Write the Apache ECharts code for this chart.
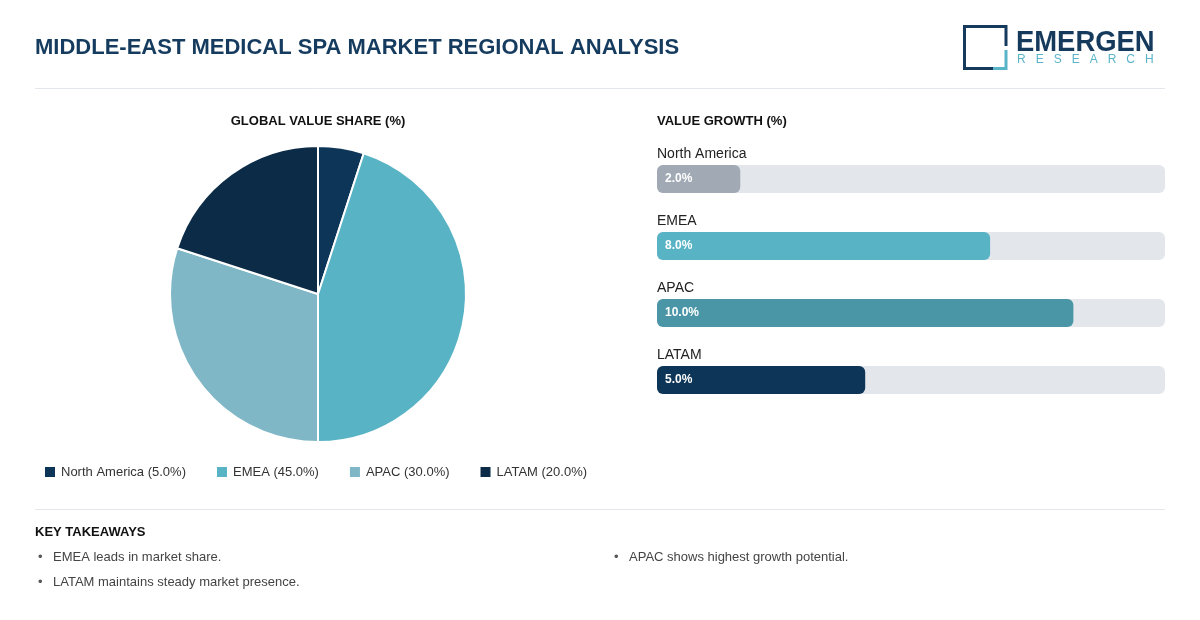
<!DOCTYPE html>
<html>
<head>
<meta charset="utf-8">
<script src="https://cdn.jsdelivr.net/npm/echarts@6/dist/echarts.min.js"></script>
<style>
html,body{margin:0;padding:0;background:#fff;}
#chart{width:1200px;height:620px;}
</style>
</head>
<body>
<div id="chart"></div>
<script>
const regions = ['North America', 'EMEA', 'APAC', 'LATAM'];
const shareValues = [5.0, 45.0, 30.0, 20.0];
const growthValues = [2.0, 8.0, 10.0, 5.0];
const takeawaysLeft = ['EMEA leads in market share.', 'LATAM maintains steady market presence.'];
const takeawaysRight = ['APAC shows highest growth potential.'];

const pieColors = ['#0d3557', '#58b3c5', '#7fb7c6', '#0b2b46'];
const barColors = ['#a0a9b4', '#58b3c5', '#4b96a6', '#0d3557'];
const FONT = '"Liberation Sans", Arial, sans-serif';

const chart = echarts.init(document.getElementById('chart'), null, {renderer: 'canvas'});

const graphics = [
  {type: 'text', left: 35, top: 37, style: {text: 'MIDDLE-EAST MEDICAL SPA MARKET REGIONAL ANALYSIS', font: 'bold 22px ' + FONT, fill: '#153b5e'}},
  {type: 'line', shape: {x1: 35, y1: 88.5, x2: 1165, y2: 88.5}, style: {stroke: '#e3e6ea', lineWidth: 1}},
  {type: 'line', shape: {x1: 35, y1: 509.5, x2: 1165, y2: 509.5}, style: {stroke: '#e3e6ea', lineWidth: 1}},
  {type: 'text', x: 318, y: 121, style: {text: 'GLOBAL VALUE SHARE (%)', font: 'bold 13px ' + FONT, fill: '#111', align: 'center', verticalAlign: 'middle'}},
  {type: 'text', x: 657, y: 121, style: {text: 'VALUE GROWTH (%)', font: 'bold 13px ' + FONT, fill: '#111', align: 'left', verticalAlign: 'middle'}},
  {type: 'text', x: 35, y: 532, style: {text: 'KEY TAKEAWAYS', font: 'bold 13px ' + FONT, fill: '#111', align: 'left', verticalAlign: 'middle'}},
  // logo
  {type: 'polyline', shape: {points: [[1006, 46], [1006, 26.5], [964.5, 26.5], [964.5, 68.5], [993, 68.5]]}, style: {fill: 'none', stroke: '#163a5c', lineWidth: 3}},
  {type: 'polyline', shape: {points: [[1006, 50], [1006, 68.5], [993, 68.5]]}, style: {fill: 'none', stroke: '#5ab4c8', lineWidth: 3}},
  {type: 'text', x: 1016, y: 43, scaleX: 0.945, style: {text: 'EMERGEN', font: 'bold 29px ' + FONT, fill: '#163a5c', align: 'left', verticalAlign: 'middle'}},
  {type: 'text', x: 1017, y: 60, style: {text: 'R   E   S   E   A   R   C   H', font: '12px ' + FONT, fill: '#5ab4c8', align: 'left', verticalAlign: 'middle'}}
];

takeawaysLeft.forEach(function (t, i) {
  graphics.push({type: 'text', x: 38, y: 557 + i * 25, style: {text: '\u2022', font: '13px ' + FONT, fill: '#555', verticalAlign: 'middle'}});
  graphics.push({type: 'text', x: 53, y: 557 + i * 25, style: {text: t, font: '13px ' + FONT, fill: '#444', verticalAlign: 'middle'}});
});
takeawaysRight.forEach(function (t, i) {
  graphics.push({type: 'text', x: 614, y: 557 + i * 25, style: {text: '\u2022', font: '13px ' + FONT, fill: '#555', verticalAlign: 'middle'}});
  graphics.push({type: 'text', x: 629, y: 557 + i * 25, style: {text: t, font: '13px ' + FONT, fill: '#444', verticalAlign: 'middle'}});
});

const option = {
  animation: false,
  textStyle: {fontFamily: FONT},
  graphic: graphics,
  legend: {
    left: 43,
    top: 465,
    padding: 0,
    icon: 'rect',
    itemWidth: 12,
    itemHeight: 12,
    itemGap: 29,
    textStyle: {fontSize: 13, color: '#333', fontFamily: FONT},
    data: regions,
    formatter: function (name) {
      const i = regions.indexOf(name);
      return name + ' (' + shareValues[i].toFixed(1) + '%)';
    }
  },
  grid: {left: 657, top: 145.5, width: 508, height: 268},
  xAxis: {type: 'value', min: 0, max: 12.2, show: false},
  yAxis: {
    type: 'category',
    data: regions,
    inverse: true,
    axisLine: {show: false},
    axisTick: {show: false},
    splitLine: {show: false},
    axisLabel: {
      inside: true,
      verticalAlign: 'bottom',
      align: 'left',
      margin: 0,
      padding: [0, 0, 18, 0],
      fontSize: 14,
      color: '#222',
      fontFamily: FONT
    }
  },
  series: [
    {
      type: 'pie',
      center: [318, 294],
      radius: [0, 148],
      startAngle: 90,
      clockwise: true,
      label: {show: false},
      labelLine: {show: false},
      itemStyle: {borderColor: '#fff', borderWidth: 2},
      data: regions.map(function (r, i) {
        return {name: r, value: shareValues[i], itemStyle: {color: pieColors[i]}};
      })
    },
    {
      type: 'bar',
      barWidth: 28,
      showBackground: true,
      backgroundStyle: {color: '#e3e6ea', borderRadius: 6},
      itemStyle: {borderRadius: 6},
      label: {
        show: true,
        position: 'insideLeft',
        distance: 8,
        color: '#fff',
        fontWeight: 'bold',
        fontSize: 12,
        fontFamily: FONT,
        formatter: function (p) { return p.value.toFixed(1) + '%'; }
      },
      data: growthValues.map(function (v, i) {
        return {value: v, itemStyle: {color: barColors[i]}};
      })
    }
  ]
};
chart.setOption(option);
</script>
</body>
</html>
